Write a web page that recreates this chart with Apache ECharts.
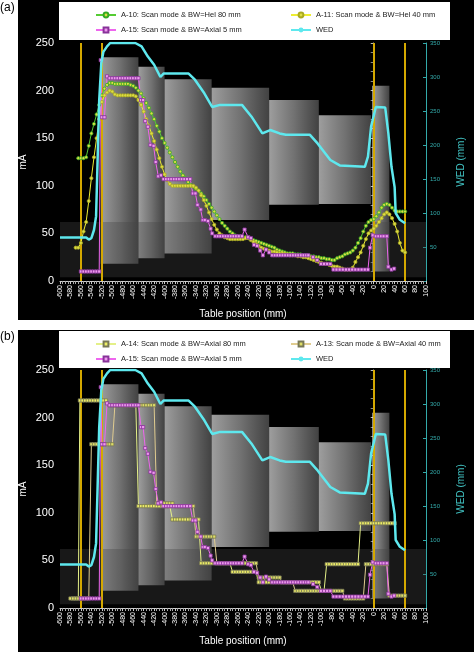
<!DOCTYPE html>
<html><head><meta charset="utf-8">
<script src="https://cdn.jsdelivr.net/npm/echarts@6/dist/echarts.min.js"></script>
<style>html,body{margin:0;padding:0;background:#fff}#c{width:474px;height:652px}</style>
</head><body><div id="c"></div>
<script>
const xTicks = [-600,100,20];
const A10 = [[-565,129],[-560,129],[-555,129],[-550,130],[-545,142],[-540,155],[-535,165],[-530,175],[-525,185],[-520,195],[-515,202],[-510,206],[-505,208],[-500,208],[-495,207],[-490,207],[-485,207],[-480,207],[-475,207],[-470,207],[-465,206],[-460,205],[-455,203],[-450,200],[-445,197],[-440,192],[-435,187],[-430,182],[-425,176],[-420,170],[-415,163],[-410,157],[-405,150],[-400,145],[-395,140],[-390,135],[-385,130],[-380,125],[-375,120],[-370,115],[-365,111],[-360,108],[-355,104],[-350,101],[-345,99],[-340,97],[-335,95],[-330,92],[-325,89],[-320,85],[-315,81],[-310,77],[-305,73],[-300,69],[-295,65],[-290,61],[-285,58],[-280,55],[-275,52],[-270,50],[-265,48],[-260,47],[-255,47],[-250,46],[-245,46],[-240,45],[-235,44],[-230,43],[-225,42],[-220,41],[-215,40],[-210,39],[-205,38],[-200,37],[-195,36],[-190,35],[-185,33],[-180,32],[-175,31],[-170,30],[-165,29],[-160,29],[-155,29],[-150,28],[-145,28],[-140,28],[-135,27],[-130,27],[-125,27],[-120,26],[-115,26],[-110,25],[-105,25],[-100,24],[-95,24],[-90,23],[-85,23],[-80,22],[-75,22],[-70,24],[-65,25],[-60,26],[-55,28],[-50,29],[-45,30],[-40,32],[-35,35],[-30,40],[-25,45],[-20,52],[-15,58],[-10,62],[-5,64],[0,65],[5,68],[10,72],[15,77],[20,80],[25,81],[30,80],[35,77],[40,74],[45,73],[50,73],[55,73],[60,73]];
const A11 = [[-570,35],[-565,35],[-560,40],[-555,52],[-550,62],[-545,84],[-540,108],[-535,130],[-530,150],[-525,170],[-520,188],[-515,195],[-510,198],[-505,200],[-500,199],[-495,196],[-490,195],[-485,195],[-480,195],[-475,195],[-470,195],[-465,195],[-460,195],[-455,194],[-450,190],[-445,185],[-440,178],[-435,170],[-430,163],[-425,155],[-420,147],[-415,138],[-410,129],[-405,120],[-400,112],[-395,106],[-390,102],[-385,100],[-380,100],[-375,100],[-370,100],[-365,100],[-360,100],[-355,100],[-350,100],[-345,100],[-340,98],[-335,95],[-330,90],[-325,85],[-320,79],[-315,72],[-310,65],[-305,59],[-300,54],[-295,50],[-290,48],[-285,46],[-280,45],[-275,44],[-270,44],[-265,44],[-260,44],[-255,44],[-250,44],[-245,45],[-240,45],[-235,43],[-230,41],[-225,39],[-220,37],[-215,35],[-210,34],[-205,33],[-200,32],[-195,31],[-190,31],[-185,30],[-180,29],[-175,29],[-170,28],[-165,28],[-160,27],[-155,27],[-150,27],[-145,26],[-140,26],[-135,25],[-130,25],[-125,24],[-120,23],[-115,22],[-110,21],[-105,20],[-100,19],[-95,18],[-90,18],[-85,17],[-80,16],[-75,15],[-70,15],[-65,14],[-60,13],[-55,12],[-50,12],[-45,12],[-40,14],[-35,20],[-30,25],[-25,30],[-20,37],[-15,44],[-10,50],[-5,53],[0,55],[5,58],[10,62],[15,66],[20,70],[25,72],[30,70],[35,66],[40,60],[45,52],[50,40],[55,32],[60,30]];
const A15 = [[-560,10],[-555,10],[-550,10],[-545,10],[-540,10],[-535,10],[-530,10],[-525,10],[-522,232],[-520,172],[-515,172],[-510,215],[-505,213],[-500,213],[-495,213],[-490,213],[-485,213],[-480,213],[-475,213],[-470,213],[-465,213],[-460,213],[-455,213],[-450,213],[-445,190],[-441,190],[-437,168],[-432,162],[-427,143],[-421,142],[-417,125],[-412,110],[-407,111],[-402,107],[-397,107],[-392,107],[-387,107],[-382,107],[-377,107],[-372,107],[-367,107],[-362,107],[-357,107],[-351,107],[-346,92],[-341,92],[-337,80],[-331,75],[-327,64],[-323,64],[-317,63],[-312,55],[-309,50],[-303,47],[-298,47],[-293,47],[-288,47],[-283,47],[-278,47],[-273,47],[-268,47],[-263,47],[-258,47],[-252,47],[-247,54],[-240,46],[-235,45],[-229,38],[-223,37],[-217,32],[-212,27],[-206,33],[-200,30],[-194,27],[-189,27],[-184,27],[-179,27],[-174,27],[-169,27],[-164,27],[-159,27],[-154,27],[-149,27],[-144,27],[-139,27],[-134,27],[-129,27],[-125,27],[-116,25],[-108,22],[-101,18],[-95,18],[-89,18],[-83,18],[-77,12],[-71,12],[-65,12],[-59,12],[-53,12],[-47,12],[-41,12],[-35,12],[-29,12],[-23,12],[-17,12],[-11,12],[-7,35],[-2,48],[4,47],[9,47],[14,47],[19,47],[25,47],[28,15],[34,12],[39,13]];
const A14 = [[-580,10],[-575,10],[-570,10],[-565,10],[-562,218],[-557,218],[-552,218],[-547,218],[-542,218],[-537,218],[-532,218],[-527,218],[-522,218],[-517,218],[-512,218],[-505,213],[-500,213],[-495,213],[-490,213],[-485,213],[-480,213],[-475,213],[-470,213],[-465,213],[-460,213],[-455,213],[-450,107],[-445,107],[-440,107],[-435,107],[-430,107],[-425,107],[-420,107],[-415,107],[-410,107],[-405,107],[-400,107],[-395,107],[-390,107],[-385,93],[-380,93],[-375,93],[-370,93],[-365,93],[-360,93],[-355,93],[-350,93],[-345,93],[-340,93],[-335,93],[-330,47],[-325,47],[-320,47],[-315,47],[-310,47],[-305,47],[-300,47],[-295,47],[-290,47],[-285,47],[-280,47],[-275,47],[-270,38],[-265,38],[-260,38],[-255,38],[-250,38],[-245,38],[-240,38],[-235,38],[-230,38],[-225,38],[-220,27],[-215,27],[-210,27],[-205,27],[-200,27],[-195,27],[-190,27],[-185,27],[-180,27],[-175,27],[-170,27],[-165,27],[-160,27],[-155,27],[-150,27],[-145,27],[-140,27],[-135,27],[-130,27],[-125,27],[-120,27],[-115,27],[-110,27],[-105,27],[-100,18],[-95,18],[-90,46],[-85,46],[-80,46],[-75,46],[-70,46],[-65,46],[-60,46],[-55,46],[-50,46],[-45,46],[-40,46],[-35,46],[-30,46],[-25,89],[-20,89],[-15,89],[-10,89],[-5,89],[0,89],[5,89],[10,89],[15,89],[20,89],[25,89],[30,89],[35,89],[40,89]];
const A13 = [[-575,10],[-570,10],[-565,10],[-560,10],[-555,10],[-550,10],[-545,10],[-540,172],[-535,172],[-530,172],[-525,172],[-520,172],[-515,172],[-510,172],[-505,172],[-500,172],[-495,213],[-490,213],[-485,213],[-480,213],[-475,213],[-470,213],[-465,213],[-460,213],[-455,213],[-450,213],[-445,213],[-440,213],[-435,213],[-430,213],[-425,213],[-420,213],[-415,110],[-410,110],[-405,110],[-400,110],[-395,110],[-390,110],[-385,110],[-380,107],[-375,107],[-370,107],[-365,107],[-360,107],[-355,107],[-350,107],[-345,107],[-340,75],[-335,75],[-330,75],[-325,75],[-320,75],[-315,75],[-310,75],[-305,75],[-300,47],[-295,47],[-290,47],[-285,47],[-280,47],[-275,47],[-270,47],[-265,47],[-260,47],[-255,47],[-250,47],[-245,47],[-240,47],[-235,47],[-230,47],[-225,47],[-220,32],[-215,32],[-210,32],[-205,32],[-200,32],[-195,32],[-190,32],[-185,32],[-180,32],[-175,27],[-170,27],[-165,27],[-160,27],[-155,27],[-150,18],[-145,18],[-140,18],[-135,18],[-130,18],[-125,18],[-120,18],[-115,18],[-110,18],[-105,18],[-100,18],[-95,18],[-90,18],[-85,18],[-80,18],[-75,18],[-70,18],[-65,18],[-60,18],[-55,10],[-50,10],[-45,10],[-40,10],[-35,10],[-30,10],[-25,10],[-20,10],[-15,46],[-10,46],[-5,46],[0,46],[5,46],[10,46],[15,46],[20,46],[25,46],[30,13],[35,13],[40,13],[45,13],[50,13],[55,13],[60,13]];
const WED = [[-600,64],[-590,64],[-570,64],[-550,64],[-545,61],[-540,63],[-535,75],[-531,95],[-528,180],[-525,266],[-521,320],[-517,337],[-510,345],[-504,350],[-480,350],[-456,350],[-444,345],[-432,330],[-420,318],[-408,300],[-402,305],[-354,305],[-342,296],[-324,276],[-309,256],[-294,259],[-252,259],[-234,242],[-213,217],[-198,222],[-180,217],[-168,215],[-122,215],[-107,202],[-83,178],[-65,170],[-17,168],[-11,183],[-5,227],[4,256],[22,255],[28,217],[34,168],[40,138],[42,100],[50,90],[60,85]];
const vLines = [-560,-520,0,60];
const phantom = [[-522,-450,18,235],[-450,-400,24,225],[-400,-310,29,212],[-310,-200,64,203],[-200,-105,80,190],[-105,-5,81,174],[-3,30,10,205]];
const legA = [['A-10: Scan mode & BW=Hel 80 mm','A-15: Scan mode & BW=Axial 5 mm'],['A-11: Scan mode & BW=Hel 40 mm','WED']];
const legB = [['A-14: Scan mode & BW=Axial 80 mm','A-15: Scan mode & BW=Axial 5 mm'],['A-13: Scan mode & BW=Axial 40 mm','WED']];

const chart = echarts.init(document.getElementById('c'));
const tops=[43,370];
const grids=[],xAxes=[],yAxes=[],series=[],legends=[];
function ser(name,data,gi,lc,fill,border,sym){
  return {name,type:'line',data,xAxisIndex:gi,yAxisIndex:gi*2,symbol:sym,symbolSize:3.2,
    lineStyle:{color:lc,width:1},itemStyle:{color:fill,borderColor:border,borderWidth:0.8},z:5};
}
[0,1].forEach(gi=>{
  grids.push({left:60,right:26,top:tops[gi],height:238});
  xAxes.push({type:'value',gridIndex:gi,min:xTicks[0],max:xTicks[1],interval:xTicks[2],
    name:'Table position (mm)',nameLocation:'middle',nameGap:28,nameTextStyle:{color:'#fff',fontSize:10},
    axisLine:{lineStyle:{color:'#ccc'}},axisTick:{lineStyle:{color:'#ccc'},length:3},minorTick:{show:true,splitNumber:4,lineStyle:{color:'#aaa'}},
    axisLabel:{color:'#fff',fontSize:7,rotate:90,margin:4},splitLine:{show:false}});
  yAxes.push({type:'value',gridIndex:gi,min:0,max:250,interval:50,
    axisLine:{show:true,lineStyle:{color:'#bbb'}},axisTick:{show:true,length:3},minorTick:{show:true,splitNumber:5,lineStyle:{color:'#888'}},
    axisLabel:{color:'#fff',fontSize:11,margin:6},splitLine:{show:false}});
  yAxes.push({type:'value',gridIndex:gi,min:0,max:350,interval:50,position:'right',name:'WED (mm)',nameLocation:'middle',nameGap:30,
    nameRotate:90,nameTextStyle:{color:'#40c0c0',fontSize:10},axisLine:{show:true,lineStyle:{color:'#3aa'}},axisTick:{show:true,inside:true,length:3,lineStyle:{color:'#3aa'}},
    axisLabel:{color:'#3aa',fontSize:6,margin:4,formatter:v=>v===0?'':v},splitLine:{show:false}});
  series.push({type:'line',data:[],xAxisIndex:gi,yAxisIndex:gi*2,silent:true,z:1,
    markArea:{silent:true,itemStyle:{color:new echarts.graphic.LinearGradient(0,0,1,0,[{offset:0,color:'rgba(225,225,225,0.7)'},{offset:0.5,color:'rgba(175,175,175,0.65)'},{offset:1,color:'rgba(110,110,110,0.6)'}])},
      data:phantom.map(p=>[{xAxis:p[0],yAxis:p[2]},{xAxis:p[1],yAxis:p[3]}]).concat([[{xAxis:-600,yAxis:4,itemStyle:{color:'rgba(70,70,70,0.35)'}},{xAxis:100,yAxis:62}]])},
    markLine:{silent:true,symbol:'none',label:{show:false},lineStyle:{color:'#d4a800',width:2,type:'solid'},data:vLines.map(v=>({xAxis:v}))}});
  if(gi===0){
    series.push(ser(legA[0][0],A10,0,'#5c3','#dd4','#3a2','circle'));
    series.push(ser(legA[1][0],A11,0,'#ee3','#dd4','#aa2','circle'));
    series.push(ser(legA[0][1],A15,0,'#e6e','#e9e','#839','rect'));
  } else {
    series.push(ser(legB[0][0],A14,1,'#e4f088','#ee6','#775','rect'));
    series.push(ser(legB[1][0],A13,1,'#e0cc90','#dd6','#775','rect'));
    series.push(ser(legB[0][1],A15,1,'#e6e','#e9e','#839','rect'));
  }
  series.push({name:'WED',type:'line',data:WED,xAxisIndex:gi,yAxisIndex:gi*2+1,symbol:'none',
    lineStyle:{color:'#5ee8ee',width:2.5},itemStyle:{color:'#5ee8ee'},z:6});
  const L = gi===0?legA:legB;
  const ty = gi===0?6:335;
  [0,1].forEach(col=>{
    legends.push({orient:'vertical',left:col===0?90:285,top:ty,itemGap:7,itemWidth:20,itemHeight:6,
      data:L[col],textStyle:{fontSize:7.5,color:'#222'},selectedMode:false});
  });
});
chart.setOption({
  backgroundColor:'#fff',animation:false,
  graphic:[
    {type:'rect',shape:{x:18,y:0,width:456,height:320},style:{fill:'#000'},z:-10},
    {type:'rect',shape:{x:18,y:330,width:456,height:322},style:{fill:'#000'},z:-10},
    {type:'rect',shape:{x:59,y:2,width:391,height:38},style:{fill:'#fff'},z:-5},
    {type:'rect',shape:{x:59,y:331,width:391,height:37},style:{fill:'#fff'},z:-5},
    {type:'text',left:0,top:2,style:{text:'(a)',fontSize:12,fill:'#000'}},
    {type:'text',left:0,top:331,style:{text:'(b)',fontSize:12,fill:'#000'}},
    {type:'text',x:23,y:162,rotation:Math.PI/2,style:{text:'mA',fontSize:10,fill:'#fff',align:'center',verticalAlign:'middle'}},
    {type:'text',x:23,y:489,rotation:Math.PI/2,style:{text:'mA',fontSize:10,fill:'#fff',align:'center',verticalAlign:'middle'}}
  ],
  grid:grids,xAxis:xAxes,yAxis:yAxes,series,legend:legends
});
</script></body></html>
